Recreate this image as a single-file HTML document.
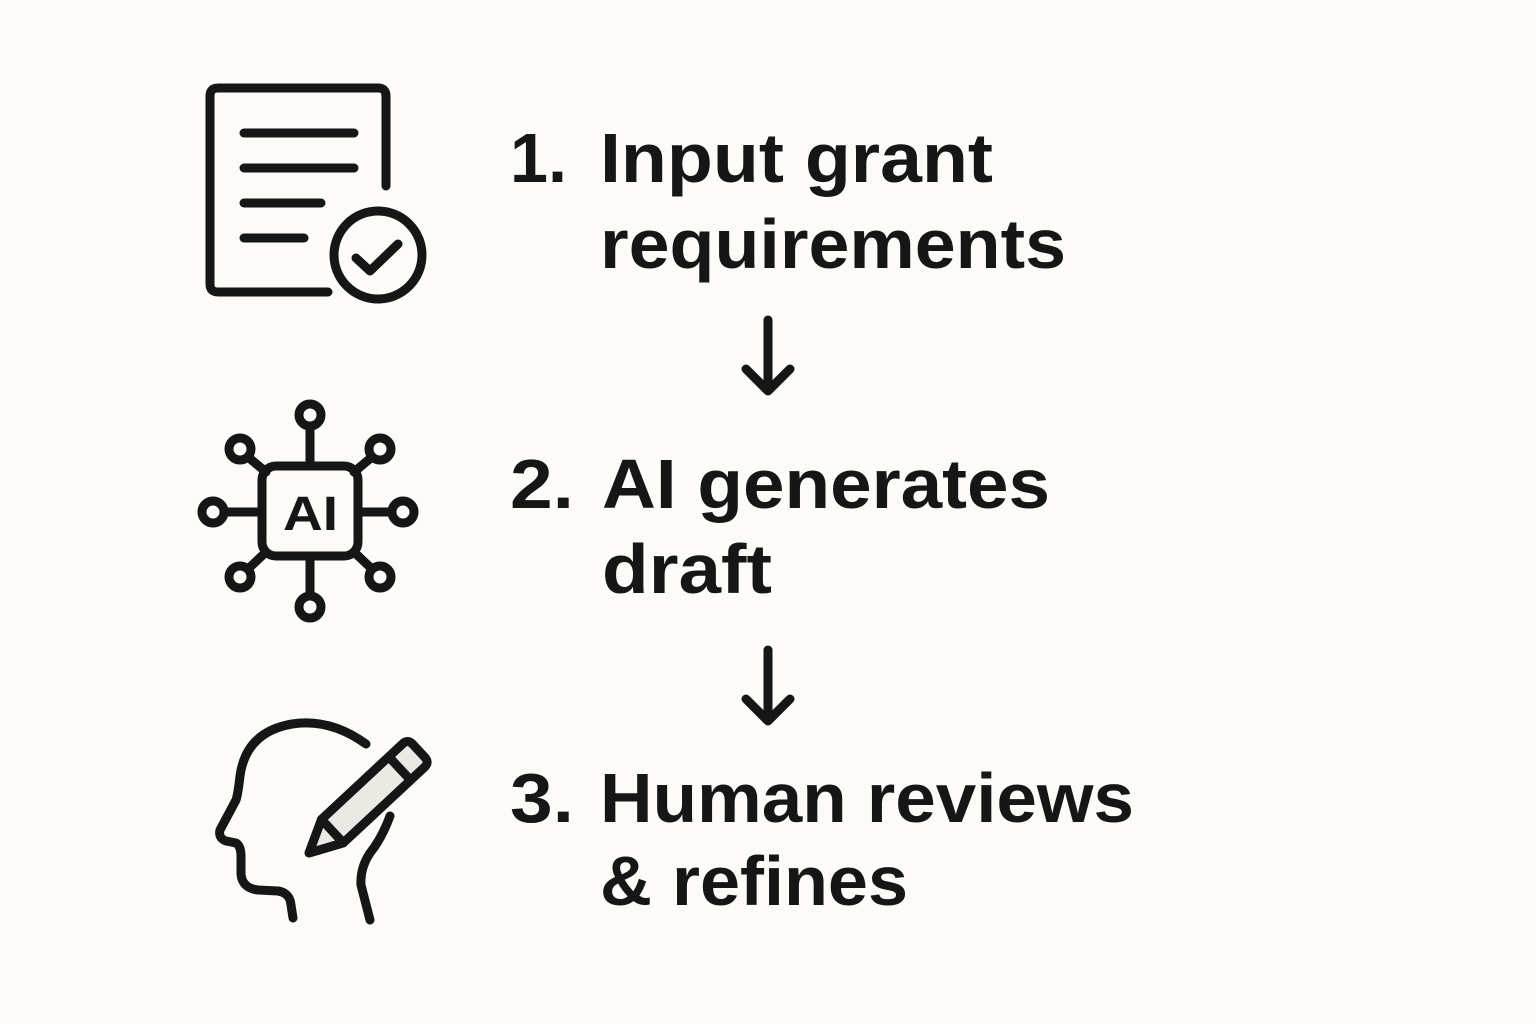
<!DOCTYPE html>
<html><head><style>
html,body{margin:0;padding:0;background:#fcfbf7;}
svg{display:block;}
text{font-family:"Liberation Sans",sans-serif;font-weight:bold;fill:#161616;}
</style></head><body>
<svg width="1536" height="1024" viewBox="0 0 1536 1024">
<rect width="1536" height="1024" fill="#fcfbf7"/>
<g fill="none" stroke="#161616" stroke-width="9" stroke-linecap="round" stroke-linejoin="round">
 <path d="M386 186 V96 Q386 88 378 88 H218 Q210 88 210 96 V284 Q210 292 218 292 H328"/>
 <line x1="244" y1="133" x2="354" y2="133"/>
 <line x1="244" y1="168" x2="354" y2="168"/>
 <line x1="244" y1="203" x2="321" y2="203"/>
 <line x1="244" y1="238" x2="304" y2="238"/>
 <circle cx="378" cy="255" r="44"/>
 <path d="M356 258 L370 271 L398 244"/>
 <rect x="262" y="466" width="96" height="90" rx="14"/>
 <line x1="310" y1="426" x2="310" y2="466"/>
 <line x1="310" y1="556" x2="310" y2="596"/>
 <line x1="224" y1="512" x2="262" y2="512"/>
 <line x1="358" y1="512" x2="392" y2="512"/>
 <line x1="248" y1="457" x2="266" y2="472"/>
 <line x1="372" y1="457" x2="354" y2="472"/>
 <line x1="248" y1="569" x2="266" y2="552"/>
 <line x1="372" y1="569" x2="354" y2="552"/>
 <circle cx="310" cy="415" r="11"/>
 <circle cx="310" cy="607" r="11"/>
 <circle cx="213" cy="512" r="11"/>
 <circle cx="403" cy="512" r="11"/>
 <circle cx="240" cy="449" r="11"/>
 <circle cx="380" cy="449" r="11"/>
 <circle cx="240" cy="577" r="11"/>
 <circle cx="380" cy="577" r="11"/>
 <path d="M366 744 Q330 718 292 724 Q246 732 240 776 Q238 794 236 800 L220 830 Q218 838 226 841 L236 843 Q241 846 241 856 V874 Q242 888 258 890 L278 891 Q290 893 291 905 L293 918"/>
 <path d="M390 816 Q382 838 370 853 Q360 868 361 885 L370 920"/>
 <g transform="translate(309,853) rotate(-43)">
  <path d="M0 0 L32 -16 H143 Q150 -16 150 -9 V9 Q150 16 143 16 H32 Z" fill="#ece9e4"/>
  <line x1="32" y1="-16" x2="32" y2="16"/>
  <line x1="124" y1="-16" x2="124" y2="16"/>
 </g>
 <line x1="768" y1="320" x2="768" y2="390"/>
 <path d="M746 369 L768 391 L790 369"/>
 <line x1="768" y1="650" x2="768" y2="720"/>
 <path d="M746 699 L768 721 L790 699"/>
</g>
<text x="283" y="530" font-size="48" textLength="55" lengthAdjust="spacingAndGlyphs">AI</text>
<g font-size="70">
 <text x="510" y="182" textLength="57" lengthAdjust="spacingAndGlyphs">1.</text>
 <text x="600" y="182" textLength="393" lengthAdjust="spacingAndGlyphs">Input grant</text>
 <text x="600" y="268" textLength="466" lengthAdjust="spacingAndGlyphs">requirements</text>
 <text x="510" y="508" textLength="64" lengthAdjust="spacingAndGlyphs">2.</text>
 <text x="602" y="508" textLength="448" lengthAdjust="spacingAndGlyphs">AI generates</text>
 <text x="602" y="593" textLength="170" lengthAdjust="spacingAndGlyphs">draft</text>
 <text x="510" y="822" textLength="64" lengthAdjust="spacingAndGlyphs">3.</text>
 <text x="600" y="822" textLength="534" lengthAdjust="spacingAndGlyphs">Human reviews</text>
 <text x="600" y="905" textLength="308" lengthAdjust="spacingAndGlyphs">&amp; refines</text>
</g>
</svg>
</body></html>
